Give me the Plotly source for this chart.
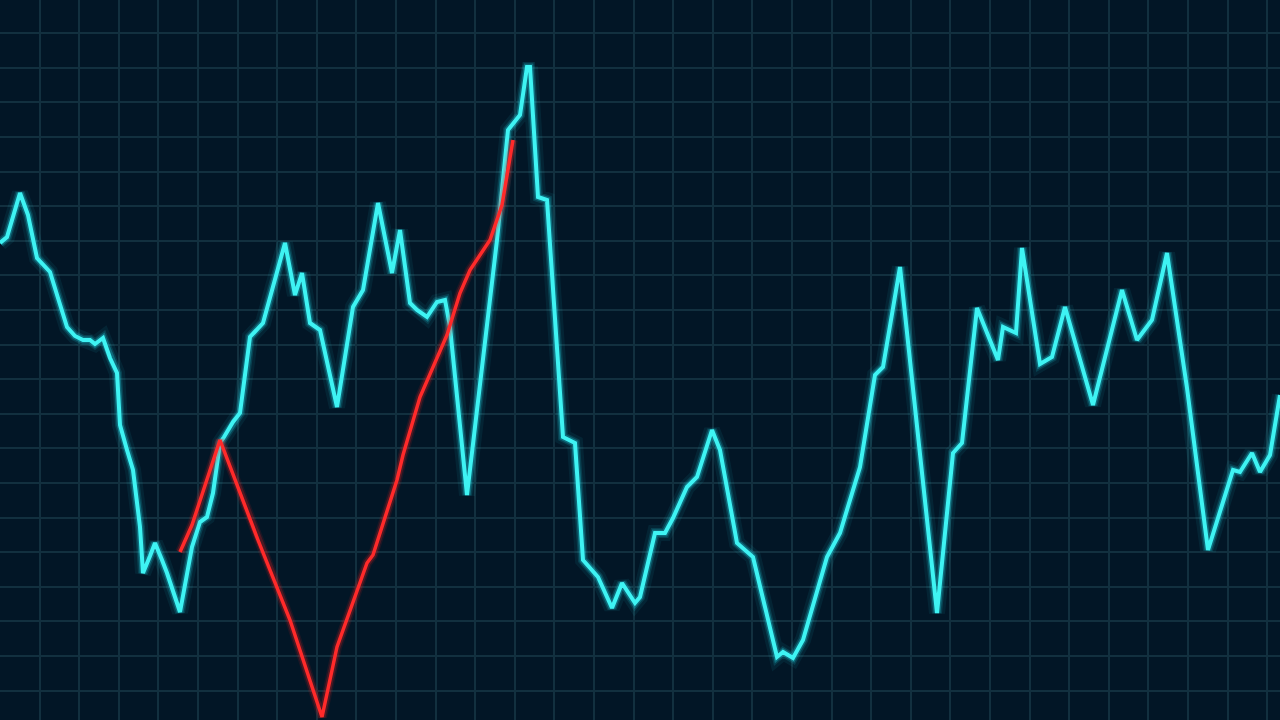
import plotly.graph_objects as go

# Cyan signal: time position and level (level = height above bottom edge)
cyan_t = [0, 7, 20, 28, 37, 50, 58, 67, 75, 83, 90, 95, 103, 110, 117, 120, 127, 133, 140, 143,
          150, 155, 162, 167, 180, 192, 200, 207, 213, 220, 224, 233, 240, 247, 250, 263, 285, 295,
          302, 310, 320, 337, 353, 363, 378, 392, 400, 410, 417, 427, 437, 445, 450, 467, 497, 508,
          520, 527, 530, 538, 547, 563, 575, 583, 598, 612, 622, 635, 640, 655, 665, 673, 687, 697,
          712, 720, 737, 753, 777, 783, 793, 803, 827, 840, 860, 875, 883, 900, 937, 953, 962, 977,
          998, 1003, 1016, 1022, 1040, 1052, 1065, 1093, 1122, 1137, 1152, 1167, 1187, 1208, 1233,
          1240, 1252, 1260, 1270, 1280]
cyan_px = [243, 237, 193, 215, 258, 272, 298, 327, 336, 340, 340, 344, 338, 358, 373, 425, 450, 470, 527, 573,
           556, 543, 560, 573, 612, 547, 522, 517, 493, 443, 437, 422, 413, 362, 337, 323, 243, 295,
           273, 323, 330, 407, 307, 290, 203, 273, 230, 303, 310, 317, 302, 300, 327, 495, 240, 130,
           115, 67, 67, 197, 200, 437, 443, 560, 577, 608, 583, 603, 597, 533, 533, 518, 487, 477,
           430, 450, 543, 557, 657, 652, 658, 640, 557, 533, 467, 375, 367, 267, 613, 453, 443, 308,
           360, 327, 333, 248, 364, 357, 307, 405, 290, 340, 320, 253, 388, 550, 470,
           472, 453, 472, 455, 395]
cyan_level = [720 - v for v in cyan_px]

# Red signal
red_t = [180, 192, 220, 258, 290, 322, 337, 367, 373, 397, 403, 420, 447, 460, 470, 490, 502, 513]
red_px = [552, 525, 440, 540, 620, 717, 647, 563, 555, 480, 455, 397, 335, 293, 270, 240, 205, 140]
red_level = [720 - v for v in red_px]

BG = "#021626"
GRID = "#12303f"

fig = go.Figure()

# glow layers for cyan
for w, op in [(16, 0.07), (10, 0.14), (7, 0.28)]:
    fig.add_trace(go.Scatter(x=cyan_t, y=cyan_level, mode="lines",
                             line=dict(color="#20e0f0", width=w), opacity=op,
                             hoverinfo="skip", showlegend=False))
fig.add_trace(go.Scatter(x=cyan_t, y=cyan_level, mode="lines",
                         line=dict(color="#3ef3f3", width=4), showlegend=False))

# glow for red
for w, op in [(10, 0.1), (7, 0.22)]:
    fig.add_trace(go.Scatter(x=red_t, y=red_level, mode="lines",
                             line=dict(color="#ff2020", width=w), opacity=op,
                             hoverinfo="skip", showlegend=False))
fig.add_trace(go.Scatter(x=red_t, y=red_level, mode="lines",
                         line=dict(color="#ff2a2a", width=3.5), showlegend=False))

fig.update_layout(
    width=1280, height=720,
    margin=dict(l=0, r=0, t=0, b=0),
    paper_bgcolor=BG, plot_bgcolor=BG,
    showlegend=False,
    xaxis=dict(range=[0, 1280], tick0=0, dtick=39.6, showgrid=True, gridcolor=GRID,
               gridwidth=1.6, showticklabels=False, zeroline=False, showline=False, ticks=""),
    yaxis=dict(range=[0, 720], tick0=29.5, dtick=34.6, showgrid=True, gridcolor=GRID,
               gridwidth=1.6, showticklabels=False, zeroline=False, showline=False, ticks=""),
)

fig.write_html("out.html", config={"displayModeBar": False},
               post_script="document.body.style.margin='0';document.body.style.background='#021626';")
